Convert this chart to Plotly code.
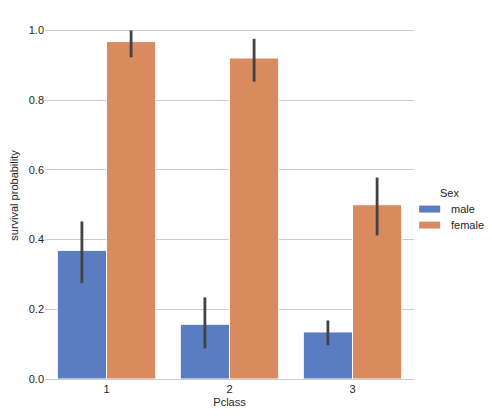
import plotly.graph_objects as go

# Titanic survival by class and sex (seaborn catplot look)
pclass = ["1", "2", "3"]
sexes = ["male", "female"]
male_rate = [0.369, 0.157, 0.135]
female_rate = [0.968, 0.921, 0.500]
# confidence interval bounds
male_lo = [0.275, 0.088, 0.097]
male_hi = [0.452, 0.234, 0.168]
female_lo = [0.923, 0.853, 0.412]
female_hi = [1.000, 0.976, 0.578]

BLUE = "#5a7dc1"
ORANGE = "#d98a5e"
ERR = "#424242"
colors = [BLUE, ORANGE]

fig = go.Figure()

for name, vals, lo, hi, color in [
    ("male", male_rate, male_lo, male_hi, BLUE),
    ("female", female_rate, female_lo, female_hi, ORANGE),
]:
    fig.add_trace(go.Bar(
        x=pclass, y=vals, name=name,
        marker=dict(color=color, line=dict(color="white", width=1)),
        error_y=dict(
            type="data", symmetric=False,
            array=[h - v for h, v in zip(hi, vals)],
            arrayminus=[v - l for v, l in zip(vals, lo)],
            color=ERR, thickness=2.8, width=0,
        ),
    ))

font = dict(family="Liberation Sans, Arial, sans-serif", size=11, color="#262626")

# page body adds an 8px offset, so the figure is 8px smaller than the window
fig.update_layout(
    width=484, height=412,
    margin=dict(l=37, r=78, t=4, b=41),
    barmode="group", bargap=0.2, bargroupgap=0,
    plot_bgcolor="white", paper_bgcolor="white",
    font=font,
    showlegend=False,
)

# seaborn-style legend drawn by hand beside the axes (plotly's legend squeezes the plot)
fig.add_annotation(text="Sex", x=1.097, y=0.507, xref="paper", yref="paper",
                   xanchor="center", yanchor="middle", showarrow=False, font=font)
for i, (lab, col) in enumerate(zip(sexes, colors)):
    yc = 0.463 - i * 0.0436
    fig.add_shape(type="rect", xref="paper", yref="paper",
                  x0=1.014, x1=1.071, y0=yc - 0.0095, y1=yc + 0.0095,
                  fillcolor=col, line=dict(width=0))
    fig.add_annotation(text=lab, x=1.094, y=yc, xref="paper", yref="paper",
                       xanchor="left", yanchor="middle", showarrow=False, font=font)

fig.update_xaxes(
    title=dict(text="Pclass", standoff=4, font=font),
    showline=True, linecolor="#cccccc", linewidth=1.2,
    showgrid=False, ticks="", tickfont=font,
    range=[-0.5, 2.5],
)
fig.update_yaxes(
    title=dict(text="survival probability", standoff=9, font=font),
    range=[0, 1.053], tickvals=[0, 0.2, 0.4, 0.6, 0.8, 1.0], tickformat=".1f",
    showgrid=True, gridcolor="#cccccc", gridwidth=1,
    showline=False, zeroline=False, ticks="", tickfont=font,
)

fig.write_html("out.html")
